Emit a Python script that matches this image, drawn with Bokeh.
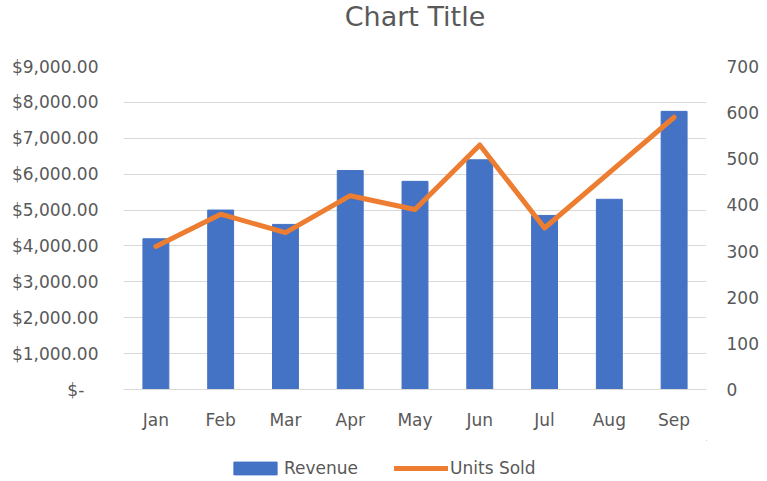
from bokeh.plotting import figure
from bokeh.layouts import column
from bokeh.models import (ColumnDataSource, Range1d, FactorRange, LinearAxis, FixedTicker,
                          CustomJSTickFormatter, Legend, LegendItem, Title)
from bokeh.embed import file_html
from bokeh.resources import INLINE

months = ["Jan", "Feb", "Mar", "Apr", "May", "Jun", "Jul", "Aug", "Sep"]
revenue = [4200, 5000, 4600, 6100, 5800, 6400, 4850, 5300, 7750]
units_sold = [310, 380, 340, 420, 390, 530, 350, 470, 590]
revenue_ticks = [0, 1000, 2000, 3000, 4000, 5000, 6000, 7000, 8000, 9000]
units_ticks = [0, 100, 200, 300, 400, 500, 600, 700]

FONT = "DejaVu Sans"
TEXT = "#595959"
GRID = "#D9D9D9"
BLUE = "#4472C4"
ORANGE = "#ED7D31"

src = ColumnDataSource(data=dict(month=months, revenue=revenue, units=units_sold))

p = figure(width=767, height=440, x_range=FactorRange(factors=months),
           y_range=Range1d(0, 9000), output_backend="svg", toolbar_location=None,
           min_border_left=123, min_border_right=61, min_border_top=65, min_border_bottom=51,
           title=None)
p.outline_line_color = None
p.background_fill_color = "white"

# spacer next to the frame, then the title above it
top_spacer = Title(text=" ", text_font=FONT, text_font_size="27px", standoff=0, offset=0)
p.add_layout(top_spacer, "above")
title = Title(text="Chart Title", text_font=FONT, text_font_size="27px",
              text_font_style="normal", text_color=TEXT, align="center",
              vertical_align="top", standoff=0, offset=0)
p.add_layout(title, "above")

p.extra_y_ranges = {"units": Range1d(0, 700)}

left_ticker = FixedTicker(ticks=revenue_ticks)
ax = p.yaxis[0]
ax.ticker = left_ticker
ax.formatter = CustomJSTickFormatter(code="""
if (tick == 0) { return "$-\\u00a0\\u00a0\\u2009"; }
return "$" + tick.toLocaleString("en-US", {minimumFractionDigits: 2, maximumFractionDigits: 2});
""")
ax.major_label_standoff = 25
p.ygrid.ticker = left_ticker
p.ygrid.grid_line_color = GRID
p.ygrid.grid_line_width = 1
p.xgrid.grid_line_color = None

ax_r = LinearAxis(y_range_name="units", ticker=FixedTicker(ticks=units_ticks))
ax_r.major_label_standoff = 20
p.add_layout(ax_r, "right")

for a in [ax, ax_r]:
    a.axis_line_color = None

for a in [ax, ax_r, p.xaxis[0]]:
    a.major_tick_line_color = None
    a.minor_tick_line_color = None
    a.major_tick_out = 0
    a.major_tick_in = 0
    a.major_label_text_font = FONT
    a.major_label_text_font_size = "17px"
    a.major_label_text_color = TEXT

p.xaxis.axis_line_color = GRID
p.xaxis.major_label_standoff = 20

bars = p.vbar(x="month", top="revenue", width=0.4, source=src,
              fill_color=BLUE, line_color=BLUE)
line = p.line(x="month", y="units", source=src, y_range_name="units",
              line_color=ORANGE, line_width=5, line_join="round", line_cap="round")

# legend strip below the chart (its sample glyphs sit outside the visible range)
q = figure(width=767, height=41, output_backend="svg", toolbar_location=None,
           x_range=Range1d(0, 1), y_range=Range1d(0, 1),
           x_axis_location=None, y_axis_location=None,
           min_border_left=0, min_border_right=0, min_border_top=0, min_border_bottom=0)
q.outline_line_color = None
q.xgrid.grid_line_color = None
q.ygrid.grid_line_color = None
leg_bar = q.vbar(x=[5], top=[7], bottom=[6], width=0.4, fill_color=BLUE, line_color=BLUE)
leg_line = q.line(x=[5, 6], y=[7, 7], line_color=ORANGE, line_width=5, line_cap="round")

legend = Legend(items=[LegendItem(label="Revenue", renderers=[leg_bar]),
                       LegendItem(label="Units Sold", renderers=[leg_line])],
                orientation="horizontal", location=(105, 3))
legend.background_fill_alpha = 0
legend.border_line_color = None
legend.padding = 0
legend.margin = 0
legend.spacing = 36
legend.label_standoff = 2
legend.glyph_width = 54
legend.glyph_height = 16
legend.label_height = 20
legend.label_text_font = FONT
legend.label_text_font_size = "17px"
legend.label_text_color = TEXT
q.add_layout(legend)

layout = column(p, q, spacing=0)
open("out.html", "w").write(file_html(layout, INLINE))
